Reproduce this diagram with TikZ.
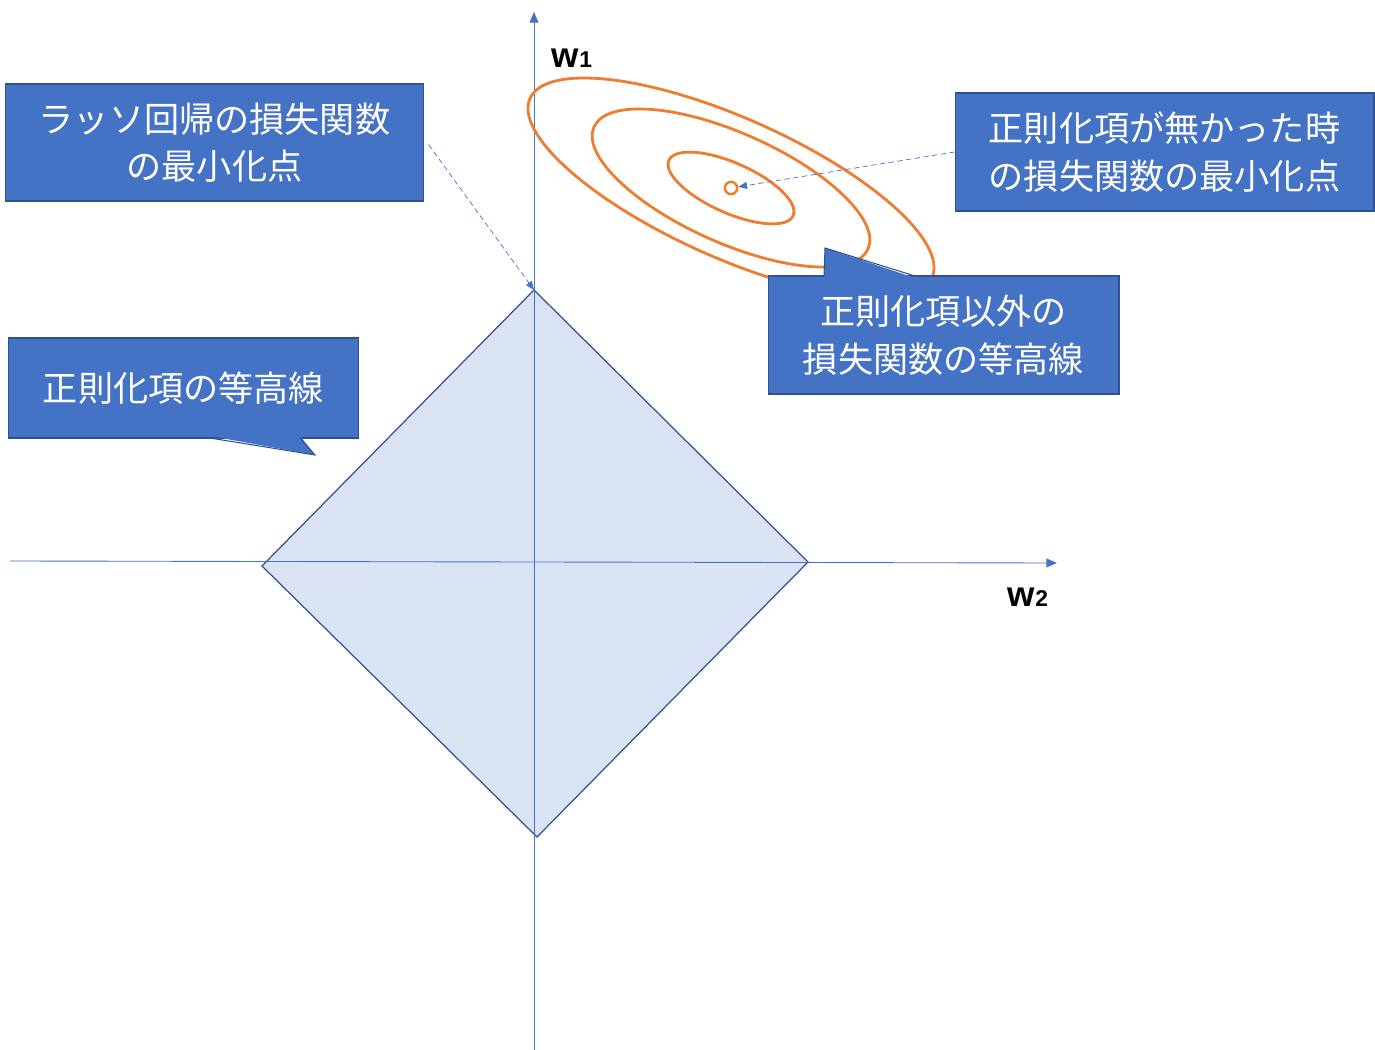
\documentclass[tikz,border=0pt]{standalone}
\usepackage{fontspec}
\newfontfamily\jpfont{Noto Sans CJK JP}
\setsansfont{Liberation Sans}
\usetikzlibrary{arrows.meta}
\definecolor{boxblue}{HTML}{4472C4}
\definecolor{boxline}{HTML}{2F528F}
\definecolor{lossorange}{HTML}{ED7D31}
\definecolor{normfill}{HTML}{DAE3F3}
\tikzset{
    notebox/.style={draw=boxline,fill=boxblue,text=white,line width=0.6pt,
        font=\jpfont\fontsize{20}{27}\selectfont,align=center,inner sep=0pt},
    axisline/.style={boxblue,line width=0.5pt,-{Triangle[length=6pt,width=5pt]}},
    contour/.style={lossorange,line width=1.6pt},
    pointer/.style={boxblue,densely dashed,line width=0.4pt,-{Triangle[length=5pt,width=4pt]}},
}
\begin{document}
\begin{tikzpicture}[x=0.02cm,y=-0.02cm]
    \useasboundingbox (0,0) rectangle (1375,1050);

    % l1 norm contour
    \coordinate (top) at (534,290);
    \coordinate (right) at (808,562);
    \coordinate (bottom) at (537,837);
    \coordinate (left) at (262,566);
    \draw[fill=normfill,draw=boxline,line width=0.7pt] (top) -- (right) -- (bottom) -- (left) -- cycle;

    % axes
    \coordinate (ybot) at (534,1050);
    \coordinate (ytop) at (534,12);
    \coordinate (xleft) at (10,561);
    \coordinate (xright) at (1057,563);
    \draw[axisline] (ybot) -- (ytop);
    \draw[axisline] (xleft) -- (xright);
    \node (w1) at (572,58) {\sffamily\bfseries\fontsize{20}{20}\selectfont w\fontsize{13}{13}\selectfont 1};
    \node (w2) at (1028,597) {\sffamily\bfseries\fontsize{20}{20}\selectfont w\fontsize{13}{13}\selectfont 2};

    % loss contours
    \begin{scope}[shift={(731,188)},rotate=-24]
        \draw[contour] (0,0) ellipse (220 and 70);
        \draw[contour] (0,0) ellipse (150 and 55);
        \draw[contour] (0,0) ellipse (68 and 25);
    \end{scope}
    \node[circle,draw=lossorange,line width=1.4pt,inner sep=0pt,minimum size=7pt] (opt) at (731,188) {};

    % callouts
    \node[notebox,minimum width=8.38cm,minimum height=2.34cm] (lasso) at (214.5,142.5)
        {ラッソ回帰の損失関数\\の最小化点};
    \node[notebox,minimum width=8.38cm,minimum height=2.36cm] (noreg) at (1164.5,152)
        {正則化項が無かった時\\の損失関数の最小化点};
    \node[notebox,minimum width=7.02cm,minimum height=2.36cm] (losscont) at (943.5,335)
        {正則化項以外の\\損失関数の等高線};
    \node[notebox,minimum width=7.02cm,minimum height=2.0cm] (normcont) at (183.5,388)
        {正則化項の等高線};

    \fill[boxblue] (824,278) -- (825,248) -- (915,278) -- cycle;
    \draw[boxline,line width=0.6pt] (824,276) -- (825,248) -- (915,276);
    \fill[boxblue] (210,436) -- (315,455) -- (300,436) -- cycle;
    \draw[boxline,line width=0.6pt] (210,438) -- (315,455) -- (300,438);

    \draw[pointer] (lasso.east) ++(4,2) -- (top);
    \draw[pointer] (noreg.west) -- (opt);
\end{tikzpicture}
\end{document}
